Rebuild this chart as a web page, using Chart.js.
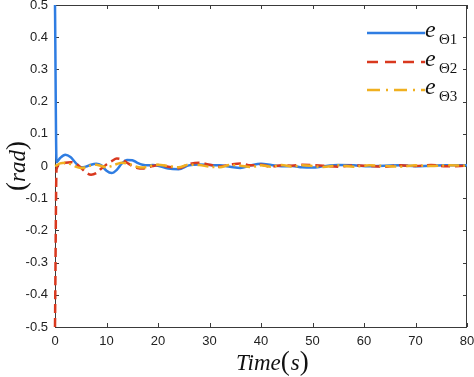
<!DOCTYPE html>
<html>
<head>
<meta charset="utf-8">
<script src="https://cdn.jsdelivr.net/npm/chart.js@4/dist/chart.umd.min.js"></script>
<style>
  html, body { margin: 0; padding: 0; background: #fff; }
  #wrap { width: 474px; height: 377px; position: relative; }
</style>
</head>
<body>
<div id="wrap"><canvas id="errChart" width="474" height="377"></canvas></div>
<script>
// sample times (s) and error values (rad)
const time = [0, 0.3, 1, 2, 3, 4, 5, 6, 7, 8, 9, 10, 11, 12, 13, 14, 15, 16, 17, 18, 19, 20,
  22, 24, 26, 28, 30, 32, 34, 36, 38, 40, 42, 44, 46, 48, 50, 52, 55, 58, 61, 64, 67, 70, 73, 76, 80];

const e1 = [0.5, 0.012, 0.025, 0.035, 0.028, 0.01, -0.004, -0.002, 0.004, 0.007, 0.002, -0.015, -0.022,
  -0.012, 0.008, 0.019, 0.018, 0.01, 0.004, 0.002, 0.003, 0.001,
  -0.008, -0.01, 0.002, 0.005, 0.003, 0.002, -0.002, -0.006, 0.002, 0.007, 0.003, -0.001, 0.0,
  -0.004, -0.005, -0.001, 0.003, 0.002, -0.001, 0.001, 0.002, -0.001, 0.001, 0.002, 0.002];

const e2 = [-0.5, -0.01, 0.005, 0.01, 0.012, 0.008, -0.005, -0.02, -0.027, -0.022, -0.008, 0.005, 0.015,
  0.023, 0.02, 0.01, 0.0, -0.006, -0.008, -0.004, 0.0, 0.003,
  -0.002, -0.007, 0.006, 0.01, 0.004, -0.002, 0.004, 0.008, 0.002, 0.004, -0.002, 0.002, 0.001,
  0.004, 0.003, 0.001, -0.002, 0.002, 0.0, -0.002, 0.002, 0.0, 0.003, -0.001, 0.001];

const e3 = [0.0, 0.002, 0.008, 0.01, 0.006, -0.002, -0.006, -0.004, 0.002, 0.004, 0.0, -0.004, 0.0,
  0.006, 0.01, 0.008, 0.003, -0.003, -0.005, -0.002, 0.002, 0.004,
  0.0, -0.004, 0.004, 0.003, -0.002, -0.004, 0.003, 0.001, -0.003, 0.002, -0.002, 0.003, -0.002,
  0.002, 0.0, -0.003, 0.002, -0.002, 0.002, 0.0, -0.002, 0.002, 0.0, 0.002, 0.001];

const seriesNames = ["1", "2", "3"];
const colors = ["#2f7de2", "#d9381e", "#f0b020"];
const dashes = [[], [9, 5], [11, 4, 2, 4]];

const AXIS = "#3a3a3a";
const SERIF = "'Liberation Serif', 'DejaVu Serif', serif";

const toPoints = (ys) => time.map((t, i) => ({ x: t, y: ys[i] }));

// box, inward ticks, titles and legend
const framePlugin = {
  id: "frame",
  beforeDatasetsDraw(chart) {
    const { ctx, chartArea: a, scales } = chart;
    ctx.save();
    ctx.strokeStyle = AXIS;
    ctx.lineWidth = 1;
    ctx.strokeRect(a.left + 0.5, a.top + 0.5, a.right - a.left - 1, a.bottom - a.top);
    ctx.beginPath();
    scales.x.ticks.forEach((tk) => {
      const px = Math.round(scales.x.getPixelForValue(tk.value)) + 0.5;
      ctx.moveTo(px, a.bottom); ctx.lineTo(px, a.bottom - 4);
      ctx.moveTo(px, a.top); ctx.lineTo(px, a.top + 4);
    });
    scales.y.ticks.forEach((tk) => {
      const py = Math.round(scales.y.getPixelForValue(tk.value)) + 0.5;
      ctx.moveTo(a.left, py); ctx.lineTo(a.left + 4, py);
      ctx.moveTo(a.right, py); ctx.lineTo(a.right - 4, py);
    });
    ctx.stroke();
    ctx.restore();
  },
  afterDraw(chart) {
    const { ctx } = chart;
    ctx.save();
    ctx.fillStyle = "#111";
    ctx.textBaseline = "alphabetic";

    // x title: Time(s)
    let x = 236;
    const yb = 370;
    const parts = [
      ["italic 23px " + SERIF, "Time"],
      ["27px " + SERIF, "("],
      ["italic 23px " + SERIF, "s"],
      ["27px " + SERIF, ")"],
    ];
    parts.forEach(([f, s]) => {
      ctx.font = f;
      ctx.fillText(s, x, yb);
      x += ctx.measureText(s).width + (s === "(" ? 1 : 0);
    });

    // y title: (rad), rotated
    ctx.translate(25, 166);
    ctx.rotate(-Math.PI / 2);
    const yparts = [
      ["27px " + SERIF, "("],
      ["italic 23px " + SERIF, "rad"],
      ["27px " + SERIF, ")"],
    ];
    let w = 0;
    yparts.forEach(([f, s]) => { ctx.font = f; w += ctx.measureText(s).width; });
    let yx = -w / 2;
    yparts.forEach(([f, s]) => {
      ctx.font = f;
      ctx.fillText(s, yx, 0);
      yx += ctx.measureText(s).width;
    });
    ctx.setTransform(1, 0, 0, 1, 0, 0);

    // legend
    const rows = [33, 62, 90];
    seriesNames.forEach((n, i) => {
      ctx.strokeStyle = colors[i];
      ctx.lineWidth = 2.5;
      ctx.setLineDash(i === 1 ? [11, 7] : i === 2 ? [13, 6, 2, 6] : []);
      ctx.beginPath();
      ctx.moveTo(367, rows[i]);
      ctx.lineTo(425, rows[i]);
      ctx.stroke();
      ctx.setLineDash([]);
      ctx.fillStyle = "#111";
      ctx.font = "italic 24px " + SERIF;
      ctx.fillText("e", 425, rows[i] + 4);
      ctx.font = "15px " + SERIF;
      ctx.fillText("\u0398" + n, 439, rows[i] + 11);
    });
    ctx.restore();
  },
};

new Chart(document.getElementById("errChart"), {
  type: "line",
  data: {
    datasets: [e1, e2, e3].map((ys, i) => ({
      label: "e\u0398" + seriesNames[i],
      data: toPoints(ys),
      borderColor: colors[i],
      borderWidth: 2.5,
      borderDash: dashes[i],
      pointRadius: 0,
      cubicInterpolationMode: "monotone",
      clip: 4,
      fill: false,
    })).reverse(),
  },
  options: {
    responsive: false,
    animation: false,
    events: [],
    layout: { padding: { top: 5, right: 7, left: 0, bottom: 0 } },
    plugins: { legend: { display: false }, tooltip: { enabled: false } },
    scales: {
      x: {
        type: "linear",
        min: 0,
        max: 80,
        afterFit: (s) => { s.height = 50; s.paddingLeft = 0; s.paddingRight = 0; },
        grid: { display: false, drawTicks: false },
        border: { display: false },
        ticks: {
          stepSize: 10,
          padding: 7,
          color: "#222",
          font: { family: "'Liberation Sans', Arial, sans-serif", size: 13 },
          maxRotation: 0,
        },
      },
      y: {
        type: "linear",
        min: -0.5,
        max: 0.5,
        afterFit: (s) => { s.width = 55; s.paddingTop = 0; s.paddingBottom = 0; },
        grid: { display: false, drawTicks: false },
        border: { display: false },
        ticks: {
          stepSize: 0.1,
          padding: 7,
          color: "#222",
          font: { family: "'Liberation Sans', Arial, sans-serif", size: 13 },
          callback: (v) => String(Math.round(v * 10) / 10),
        },
      },
    },
  },
  plugins: [framePlugin],
});
</script>
</body>
</html>
